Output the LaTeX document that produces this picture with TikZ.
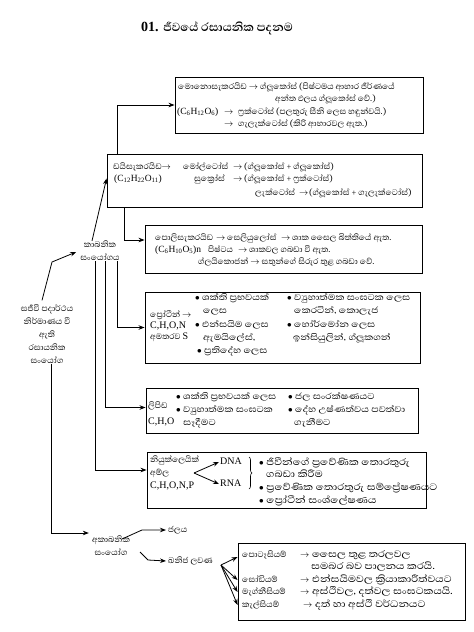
\documentclass[tikz,border=0pt]{standalone}
\usepackage{fontspec}
\setmainfont{Liberation Serif}
\newfontfamily\sinf[Script=Sinhala]{Abhaya Libre}
\newfontfamily\sinw[Script=Sinhala,FakeStretch=1.15]{Abhaya Libre}
\usetikzlibrary{arrows.meta,decorations.pathreplacing}
\newcommand\zw{^^^^200d}
\newcommand\la{\rmfamily\fontsize{10}{12}\selectfont}
\newcommand\fm{\rmfamily\fontsize{9.5}{11}\selectfont}
\newcommand\ra{{\rmfamily\fontsize{9}{10}\selectfont$\rightarrow$}}
\newcommand\bu{{\rmfamily\fontsize{9}{10}\selectfont$\bullet$}\ }
\tikzset{
  box/.style={draw,line width=0.9pt,inner sep=0pt},
  tx/.style={anchor=west,inner sep=0pt,text height=8pt,text depth=3pt,font=\sinf\fontsize{10.5}{12}\selectfont},
  tw/.style={anchor=west,inner sep=0pt,text height=8pt,text depth=3pt,font=\sinw\fontsize{11}{12}\selectfont},
  tm/.style={anchor=west,inner sep=0pt,text height=8pt,text depth=3pt,font=\sinw\fontsize{12}{13}\selectfont},
  lbl/.style={align=center,inner sep=0pt,font=\sinf\fontsize{10.5}{13}\selectfont},
  arr/.style={line width=0.8pt,-{Stealth[length=6pt,width=4.5pt]}},
}
\begin{document}
\begin{tikzpicture}[x=1pt,y=-1pt]
\useasboundingbox (0,0) rectangle (474,632);
\fill[white] (0,0) rectangle (474,632);
% title
\node[inner sep=0pt,font=\fontsize{14}{16}\selectfont\bfseries] (title) at (217,28) {01. {\sinf\fontsize{15}{16}\selectfont ජීවයේ රසායනික පදනම}};
% boxes
\node[box,minimum width=248pt,minimum height=56pt] (b1) at (299,105) {};
\node[box,minimum width=315pt,minimum height=53pt] (b2) at (264.5,180.5) {};
\node[box,minimum width=277pt,minimum height=48pt] (b3) at (283.5,249) {};
\node[box,minimum width=275pt,minimum height=71pt] (b4) at (282.5,327.5) {};
\node[box,minimum width=272pt,minimum height=45pt] (b5) at (282,410.5) {};
\node[box,minimum width=279pt,minimum height=56pt] (b6) at (286.5,480) {};
\node[box,minimum width=227pt,minimum height=77pt] (b7) at (351.5,581.5) {};
% box 1
\node[tx] (a1) at (178,87) {මොනොසැකරයිඩ \ra\ ග්ලූකෝස් (පිෂ්ටමය ආහාර ජීර්ණයේ};
\node[tx] (a4) at (275,99) {අන්ත ඵලය ග්ලූකෝස් වේ.)};
\node[tx] (a5) at (177,112) {\fm(C\textsubscript{6}H\textsubscript{12}O\textsubscript{6})};
\node[tx] (a6) at (224,112) {\ra};
\node[tx] (a7) at (238,112) {ෆ්\zw රක්ටෝස් (පලතුරු සීනි ලෙස හඳුන්වයි.)};
\node[tx] (a8) at (224,124) {\ra};
\node[tx] (a9) at (238,124) {ගැලැක්ටෝස් (කිරි ආහාරවල ඇත.)};
% box 2
\node[tx] (c1) at (113,167) {ඩයිසැකරයිඩ\ra};
\node[tx] (c2) at (183,167) {මෝල්ටෝස්};
\node[tx] (c3) at (233,167) {\ra};
\node[tx] (c4) at (244,167) {(ග්ලූකෝස් + ග්ලූකෝස්)};
\node[tx] (c5) at (114,179) {\fm(C\textsubscript{12}H\textsubscript{22}O\textsubscript{11})};
\node[tx] (c6) at (194,179) {සුක්\zw රෝස්};
\node[tx] (c7) at (233,179) {\ra};
\node[tx] (c8) at (244,179) {(ග්ලූකෝස් + ෆ්\zw රක්ටෝස්)};
\node[tx] (c9) at (255,193) {ලැක්ටෝස්};
\node[tx] (c10) at (299,193) {\ra};
\node[tx] (c11) at (309,193) {(ග්ලූකෝස් + ගැලැක්ටෝස්)};
% box 3
\node[tx] (d1) at (155,238) {පොලිසැකරයිඩ};
\node[tx] (d2) at (216,238) {\ra};
\node[tx] (d3) at (227,238) {සෙලියුලෝස්};
\node[tx] (d4) at (281,238) {\ra};
\node[tx] (d5) at (292,238) {ශාක සෛල බිත්තියේ ඇත.};
\node[tx] (d6) at (155,250) {\fm(C\textsubscript{6}H\textsubscript{10}O\textsubscript{5})n};
\node[tx] (d7) at (208,250) {පිෂ්ටය};
\node[tx] (d8) at (238,250) {\ra};
\node[tx] (d9) at (249,250) {ශාකවල ගබඩා වී ඇත.};
\node[tx] (d10) at (198,262) {ග්ලයිකොජන් \ra\ සතුන්ගේ සිරුර තුළ ගබඩා වේ.};
% box 4 protein
\node[tx] (e1) at (150,315) {ප්\zw රෝටීන් \ra};
\node[tx] (e2) at (150,326) {\la C,H,O,N};
\node[tx] (e3) at (150,337) {අමතරව {\la S}};
\node[tw] (e4) at (195,298) {\bu ශක්ති ප්\zw රභවයක්};
\node[tw] (e5) at (203,311) {ලෙස};
\node[tw] (e6) at (195,325) {\bu එන්සයිම ලෙස};
\node[tw] (e7) at (203,338) {ඇමයිලේස්,};
\node[tw] (e8) at (197,351) {\bu ප්\zw රතිදේහ ලෙස};
\node[tw] (e9) at (287,298) {\bu ව්\zw යුහාත්මක සංඝටක ලෙස};
\node[tw] (e10) at (294,311) {කෙරටින්, කොලැජ};
\node[tw] (e11) at (287,325) {\bu හෝර්මෝන ලෙස};
\node[tw] (e12) at (293,338) {ඉන්සියුලින්, ග්ලූකගන්};
% box 5 lipid
\node[tx] (f1) at (148,406) {ලිපිඩ};
\node[tx] (f2) at (148,422) {\la C,H,O};
\node[tw] (f3) at (176,397) {\bu ශක්ති ප්\zw රභවයක් ලෙස};
\node[tw] (f4) at (176,410) {\bu ව්\zw යුහාත්මක සංඝටක};
\node[tw] (f5) at (183,423) {සෑදීමට};
\node[tw] (f6) at (288,397) {\bu ජල සංරක්ෂණයට};
\node[tw] (f7) at (288,410) {\bu දේහ උෂ්ණත්වය පවත්වා};
\node[tw] (f8) at (294,423) {ගැනීමට};
% box 6 nucleic
\node[tx] (g1) at (150,460) {නියුක්ලෙයික්};
\node[tx] (g2) at (150,473) {අම්ල};
\node[tx] (g3) at (150,486) {\la C,H,O,N,P};
\node[tx] (dna) at (220,462) {\la DNA};
\node[tx] (rna) at (220,484) {\la RNA};
\node[tm] (g4) at (259,463) {\bu ජීවීන්ගේ ප්\zw රවේණික තොරතුරු};
\node[tm] (g5) at (266,475) {ගබඩා කිරීම};
\node[tm] (g6) at (259,488) {\bu ප්\zw රවේණික තොරතුරු සම්ප්\zw රේෂණයට};
\node[tm] (g7) at (259,501) {\bu ප්\zw රෝටීන් සංශ්ලේෂණය};
\coordinate (nv) at (194,473);
\draw[arr] (nv) -- ([xshift=-1pt]dna.west);
\draw[arr] (nv) -- ([xshift=-1pt]rna.west);
\draw[decorate,decoration={brace,amplitude=3pt},line width=0.6pt] (249,457) -- (249,489);
% box 7 minerals
\node[tx] (k1) at (242,555) {පොටෑසියම්};
\node[tx] (k2) at (242,580) {සෝඩියම්};
\node[tx] (k3) at (242,592) {මැග්නීසියම්};
\node[tx] (k4) at (242,605) {කැල්සියම්};
\node[tx] (m1) at (300,555) {\ra};
\node[tm] (m2) at (312,555) {සෛල තුළ තරලවල};
\node[tm] (m3) at (311,567) {සමබර බව පාලනය කරයි.};
\node[tx] (m4) at (300,580) {\ra};
\node[tm] (m5) at (312,580) {එන්සයිමවල ක්\zw රියාකාරීත්වයට};
\node[tx] (m6) at (300,592) {\ra};
\node[tm] (m7) at (312,592) {අස්ථිවල, දත්වල සංඝටකයයි.};
\node[tx] (m8) at (303,605) {\ra};
\node[tm] (m9) at (315,605) {දත් හා අස්ථි වර්ධනයට};
% labels
\node[lbl] (sj) at (47,334) {සජීවී පදාර්ථය\\නිර්මාණය වී\\ඇති\\රසායනික\\සංයෝග};
\node[lbl] (org) at (100,251) {කාබනික\\සංයෝගය};
\node[lbl] (ino) at (111,546) {අකාබනික\\සංයෝග};
\node[tx,font=\sinf\fontsize{10.5}{12}\selectfont] (wat) at (168,530) {ජලය};
\node[tx,font=\sinf\fontsize{10.5}{12}\selectfont] (mnl) at (168,561) {ඛනිජ ලවණ};
% connectors
\draw[arr] ([xshift=-5pt,yshift=4pt]sj.north) -- (52,262) -- ([xshift=-4pt,yshift=-1pt]org.west);
\draw[arr] ([xshift=-8pt]org.north) -- ([yshift=2pt]b2.west);
\draw[arr] ([xshift=11pt]b2.north west) |- (b1.west);
\draw[arr] ([xshift=18pt]b2.south west) |- ([yshift=9pt]b3.west);
\draw[arr] ([xshift=17pt]org.south) |- (b4.west);
\draw[arr] ([xshift=5pt]org.south) |- ([yshift=3pt]b5.west);
\draw[arr] ([xshift=-5pt]org.south) |- ([yshift=10pt]b6.west);
\draw[arr] ([xshift=4pt]sj.south) |- ([xshift=-3pt,yshift=13pt]ino.west);
\coordinate (w0) at (122,539);
\coordinate (w1) at (142,530);
\draw[arr] (w0) -- (w1) -- ([xshift=-2pt]wat.west);
\coordinate (v0) at (140,552);
\coordinate (v1) at (148,560);
\draw[arr] (v0) -- (v1) -- ([xshift=-2pt]mnl.west);
\coordinate (fan) at (221,565);
\draw[arr] (fan) -- ([yshift=-2pt]b7.west |- k1);
\draw[arr] (fan) -- (b7.west |- k2);
\draw[arr] (fan) -- (b7.west |- k3);
\draw[arr] (fan) -- (b7.west |- k4);
\end{tikzpicture}
\end{document}
